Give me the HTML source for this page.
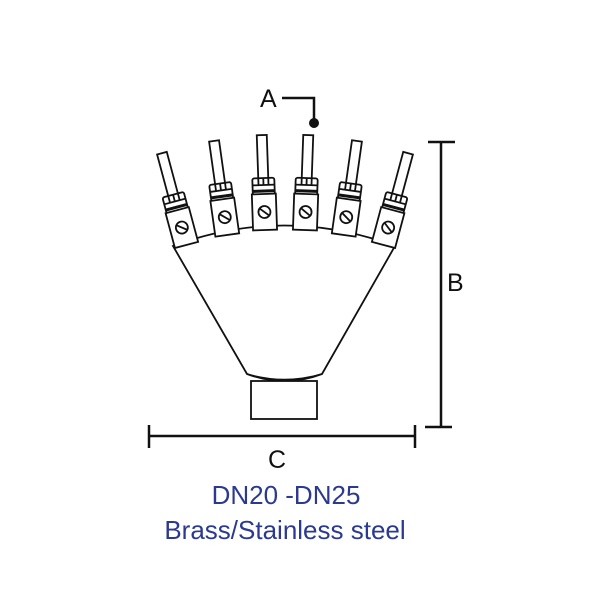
<!DOCTYPE html>
<html><head><style>body{margin:0;background:#fff}svg{display:block}</style></head><body>
<svg width="600" height="600" viewBox="0 0 600 600" xmlns="http://www.w3.org/2000/svg">
<defs>
<g id="f" stroke="#111" stroke-width="1.8" fill="#fff">
<rect x="-5" y="-93" width="10" height="46"/>
<rect x="-11" y="-50" width="22" height="17" rx="2"/>
<line x1="-11" y1="-43" x2="11" y2="-43"/>
<line x1="-5" y1="-50" x2="-5" y2="-43"/><line x1="0" y1="-50" x2="0" y2="-43"/><line x1="5" y1="-50" x2="5" y2="-43"/>
<line x1="-11" y1="-37" x2="11" y2="-37" stroke-width="3"/>
<rect x="-12" y="-34" width="24" height="36"/>
<circle cx="0" cy="-16" r="6"/>
<line x1="-4.5" y1="-19.5" x2="4.5" y2="-12.5"/>
</g>
</defs>
<path d="M173,246 Q284,205 395,246 L322,374 Q285,388 247,374 Z" fill="#fff" stroke="#111" stroke-width="1.8"/>
<path d="M247,374 Q285,385 322,374" fill="none" stroke="#111" stroke-width="1.5"/>
<rect x="251" y="381" width="66" height="38" fill="#fff" stroke="#111" stroke-width="1.8"/>
<use href="#f" transform="translate(186,243) rotate(-15)"/>
<use href="#f" transform="translate(227,233) rotate(-8)"/>
<use href="#f" transform="translate(265,228) rotate(-2)"/>
<use href="#f" transform="translate(305,228) rotate(2)"/>
<use href="#f" transform="translate(344,233) rotate(8)"/>
<use href="#f" transform="translate(384,243) rotate(15)"/>
<text x="260" y="107" font-family="Liberation Sans, sans-serif" font-size="25" fill="#111">A</text>
<polyline points="282,98 314,98 314,122" fill="none" stroke="#111" stroke-width="2.5"/>
<circle cx="314" cy="123" r="5" fill="#111"/>
<g stroke="#111" stroke-width="2.5">
<line x1="441" y1="142" x2="441" y2="427"/>
<line x1="428" y1="142" x2="455" y2="142"/>
<line x1="425" y1="427" x2="452" y2="427"/>
<line x1="149" y1="436" x2="415" y2="436"/>
<line x1="149" y1="425" x2="149" y2="448"/>
<line x1="415" y1="425" x2="415" y2="448"/>
</g>
<text x="447" y="291" font-family="Liberation Sans, sans-serif" font-size="25" fill="#111">B</text>
<text x="268" y="468" font-family="Liberation Sans, sans-serif" font-size="25" fill="#111">C</text>
<text x="286" y="504" text-anchor="middle" font-family="Liberation Sans, sans-serif" font-size="26" fill="#2b3990">DN20 -DN25</text>
<text x="285" y="539" text-anchor="middle" font-family="Liberation Sans, sans-serif" font-size="26" fill="#2b3990">Brass/Stainless steel</text>
</svg>
</body></html>
